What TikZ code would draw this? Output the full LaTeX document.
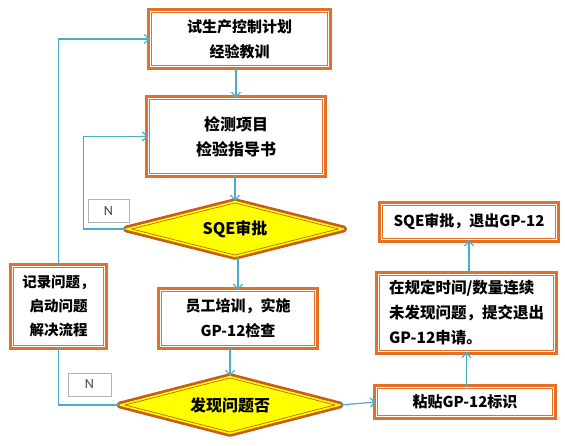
\documentclass[tikz,border=0pt]{standalone}
\usepackage{fontspec}
\setmainfont{Noto Sans CJK SC}
\newfontfamily\latinfont{Carlito}
\usetikzlibrary{shapes.geometric,arrows.meta}
\definecolor{boxorange}{RGB}{228,112,40}
\definecolor{diaorange}{RGB}{200,92,28}
\definecolor{diayellow}{RGB}{255,255,0}
\definecolor{linkteal}{RGB}{75,172,198}
\tikzstyle{box}=[rectangle,fill=white,draw=boxorange,line width=0.8pt,double=white,double distance=1.6pt,
  preaction={draw=boxorange,line width=7pt},align=center,inner sep=2pt,
  font=\bfseries\fontsize{15}{25}\selectfont]
\tikzstyle{check}=[diamond,aspect=3.6,inner sep=0pt,fill=diayellow,draw=diaorange,line width=0.8pt,line join=round,
  double=diayellow,double distance=1.6pt,preaction={draw=diaorange,line width=7pt,line join=round},
  font=\bfseries\fontsize{16}{20}\selectfont]
\tikzstyle{nlabel}=[rectangle,draw=black!30,line width=0.6pt,text=black!75,font=\latinfont\fontsize{14}{14}\selectfont]
\tikzstyle{link}=[draw=linkteal,line width=1.2pt]
\tikzstyle{arr}=[link,-{Straight Barb[length=5pt,width=9pt]}]

\begin{document}
\begin{tikzpicture}[x=1pt,y=-1pt]
	\useasboundingbox (0,0) rectangle (565,446);
	% main column
	\node[box,minimum width=178,minimum height=55] (plan) at (239.5,39) {试生产控制计划\\经验教训};
	\node[box,minimum width=175,minimum height=76,font=\bfseries\fontsize{16}{25}\selectfont] (items) at (236,136.5) {检测项目\\检验指导书};
	\node[check,minimum width=217,minimum height=55] (sqe) at (235,229) {SQE审批};
	\node[box,minimum width=155,minimum height=56] (train) at (238,318.5) {员工培训，实施\\GP-12检查};
	\node[check,minimum width=220,minimum height=57] (found) at (230,405) {发现问题否};
	% left side
	\node[box,minimum width=92,minimum height=80,font=\bfseries\fontsize{14.5}{24}\selectfont] (record) at (58.5,306.5) {记录问题，\\启动问题\\解决流程};
	% right column
	\node[box,minimum width=177,minimum height=29] (label) at (465,402) {粘贴GP-12标识};
	\node[box,minimum width=176,minimum height=77,align=left,font=\bfseries\fontsize{15.5}{25}\selectfont] (apply) at (466.5,313) {在规定时间/数量连续\\未发现问题，提交退出\\GP-12申请。};
	\node[box,minimum width=175,minimum height=35] (exit) at (469,222) {SQE审批，退出GP-12};
	% N labels
	\node[nlabel,minimum width=41,minimum height=23] (n1) at (108.5,211) {N};
	\node[nlabel,minimum width=43,minimum height=23] (n2) at (89.5,384.5) {N};
	% connectors
	\draw[arr] (plan.south -| items.north) -- (items.north);
	\draw[arr] (items.south -| sqe.north) -- (sqe.north);
	\draw[arr] (sqe.south -| train.north) -- (train.north);
	\draw[arr] (train.south -| found.north) -- (found.north);
	\draw[arr] (sqe.west) -- ++(-43,0) |- (items.west);
	\draw[link] (found.west) -| (record.south);
	\draw[arr] (record.north) |- (plan.west);
	\draw[arr] (found.east) -- (label.west);
	\draw[arr] (label.north -| apply.south) -- (apply.south);
	\draw[arr] (apply.north -| exit.south) -- (exit.south);
\end{tikzpicture}
\end{document}
